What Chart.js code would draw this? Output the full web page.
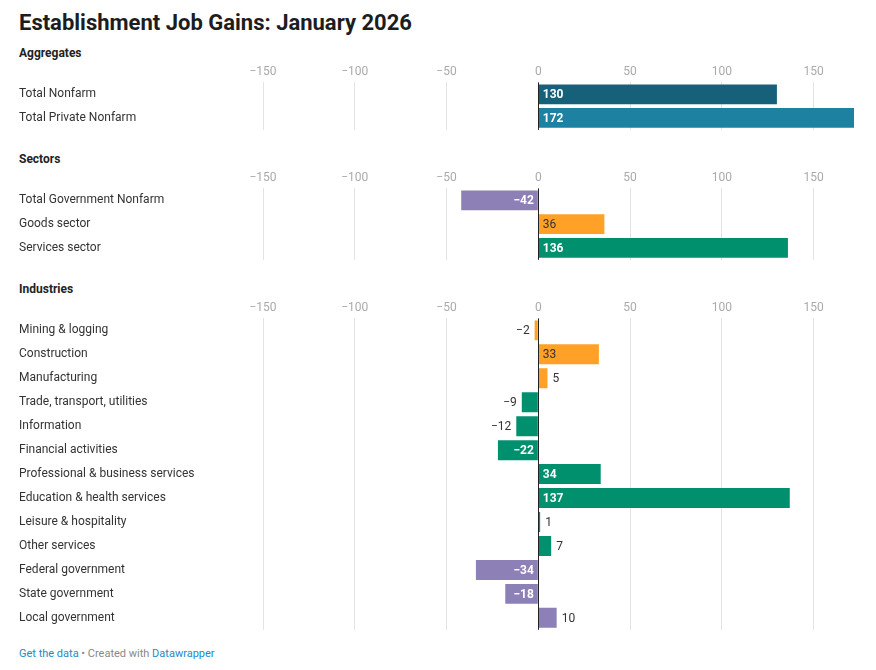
<!DOCTYPE html>
<html>
<head>
<meta charset="utf-8">
<script src="https://cdn.jsdelivr.net/npm/chart.js@4"></script>
<style>
  body { margin: 0; background: #fff; font-family: Roboto, sans-serif; width: 876px; height: 670px; position: relative; overflow: hidden; }
  .title { position: absolute; left: 19px; top: 10px; font-size: 22px; font-weight: 700; color: #1d1d1d; }
  .section { position: absolute; left: 19px; font-size: 12px; font-weight: 700; color: #222; }
  .box { position: absolute; left: 0; width: 876px; }
  .footer { position: absolute; left: 19px; top: 647px; font-size: 11px; color: #888; }
  .footer span { color: #1d8ac9; }
</style>
</head>
<body>
<div class="title">Establishment Job Gains: January 2026</div>

<div class="section" style="top:46px">Aggregates</div>
<div class="box" style="top:62px;height:78px"><canvas id="aggregates"></canvas></div>

<div class="section" style="top:152px">Sectors</div>
<div class="box" style="top:168px;height:102px"><canvas id="sectors"></canvas></div>

<div class="section" style="top:282px">Industries</div>
<div class="box" style="top:298px;height:342px"><canvas id="industries"></canvas></div>

<div class="footer"><span>Get the data</span> • Created with <span>Datawrapper</span></div>

<script>
var tickValues = [-150, -100, -50, 0, 50, 100, 150];
var axisMin = -150;
var axisMax = 172;

var aggLabels = ['Total Nonfarm', 'Total Private Nonfarm'];
var aggValues = [130, 172];
var aggColors = ['#16607a', '#1d81a2'];

var secLabels = ['Total Government Nonfarm', 'Goods sector', 'Services sector'];
var secValues = [-42, 36, 136];
var secColors = ['#8c80b6', '#ffa126', '#00906e'];

var indLabels = ['Mining & logging', 'Construction', 'Manufacturing', 'Trade, transport, utilities',
    'Information', 'Financial activities', 'Professional & business services',
    'Education & health services', 'Leisure & hospitality', 'Other services',
    'Federal government', 'State government', 'Local government'];
var indValues = [-2, 33, 5, -9, -12, -22, 34, 137, 1, 7, -34, -18, 10];
var indColors = ['#ffa126', '#ffa126', '#ffa126', '#00906e', '#00906e', '#00906e', '#00906e',
    '#00906e', '#00906e', '#00906e', '#8c80b6', '#8c80b6', '#8c80b6'];

function fmt(v) {
    return v < 0 ? '\u2212' + Math.abs(v) : String(v);
}

// value labels, inside the bar when they fit, outside otherwise
var valueLabels = {
    id: 'valueLabels',
    afterDatasetsDraw: function (chart) {
        var ctx = chart.ctx;
        var meta = chart.getDatasetMeta(0);
        var ds = chart.data.datasets[0];
        ctx.save();
        ctx.textBaseline = 'middle';
        meta.data.forEach(function (bar, i) {
            var v = ds.data[i];
            var text = fmt(v);
            var width = Math.abs(bar.x - bar.base);
            ctx.font = '700 12px Roboto';
            var tw = ctx.measureText(text).width;
            var inside = width >= tw + 10;
            var light = ds.backgroundColor[i] == '#ffa126';
            if (inside) {
                ctx.font = light ? '400 12px Roboto' : '700 12px Roboto';
                ctx.fillStyle = light ? '#333' : '#fff';
                if (v >= 0) {
                    ctx.textAlign = 'left';
                    ctx.fillText(text, bar.base + 4, bar.y + 1);
                } else {
                    ctx.textAlign = 'right';
                    ctx.fillText(text, bar.base - 4, bar.y + 1);
                }
            } else {
                ctx.font = '400 12px Roboto';
                ctx.fillStyle = '#333';
                if (v >= 0) {
                    ctx.textAlign = 'left';
                    ctx.fillText(text, bar.x + 5, bar.y + 1);
                } else {
                    ctx.textAlign = 'right';
                    ctx.fillText(text, bar.x - 5, bar.y + 1);
                }
            }
        });
        // zero line
        var x0 = Math.round(chart.scales.x.getPixelForValue(0)) + 0.5;
        ctx.strokeStyle = '#222';
        ctx.lineWidth = 1;
        ctx.beginPath();
        ctx.moveTo(x0, chart.chartArea.top);
        ctx.lineTo(x0, chart.chartArea.bottom);
        ctx.stroke();
        ctx.restore();
    }
};

function drawSection(id, labels, values, colors) {
    var ctx = document.getElementById(id).getContext('2d');
    return new Chart(ctx, {
        type: 'bar',
        data: {
            labels: labels,
            datasets: [{
                data: values,
                backgroundColor: colors,
                borderWidth: 0,
                barPercentage: 20 / 24,
                categoryPercentage: 1
            }]
        },
        options: {
            indexAxis: 'y',
            responsive: true,
            maintainAspectRatio: false,
            animation: false,
            layout: { padding: { left: 19, right: 22, top: 0, bottom: 0 } },
            plugins: { legend: { display: false }, tooltip: { enabled: false } },
            scales: {
                x: {
                    position: 'top',
                    min: axisMin,
                    max: axisMax,
                    afterBuildTicks: function (scale) {
                        scale.ticks = tickValues.map(function (v) { return { value: v }; });
                    },
                    grid: { color: '#e3e3e3', drawTicks: false },
                    border: { display: false },
                    ticks: {
                        padding: 3,
                        color: '#aaa',
                        font: { family: 'Roboto', size: 12 },
                        callback: function (v) { return fmt(v); }
                    }
                },
                y: {
                    grid: { display: false },
                    border: { display: false },
                    afterFit: function (scale) { scale.width = 244; },
                    ticks: {
                        crossAlign: 'far',
                        color: '#333',
                        font: { family: 'Roboto', size: 12 },
                        autoSkip: false
                    }
                }
            }
        },
        plugins: [valueLabels]
    });
}

drawSection('aggregates', aggLabels, aggValues, aggColors);
drawSection('sectors', secLabels, secValues, secColors);
drawSection('industries', indLabels, indValues, indColors);
</script>
</body>
</html>
